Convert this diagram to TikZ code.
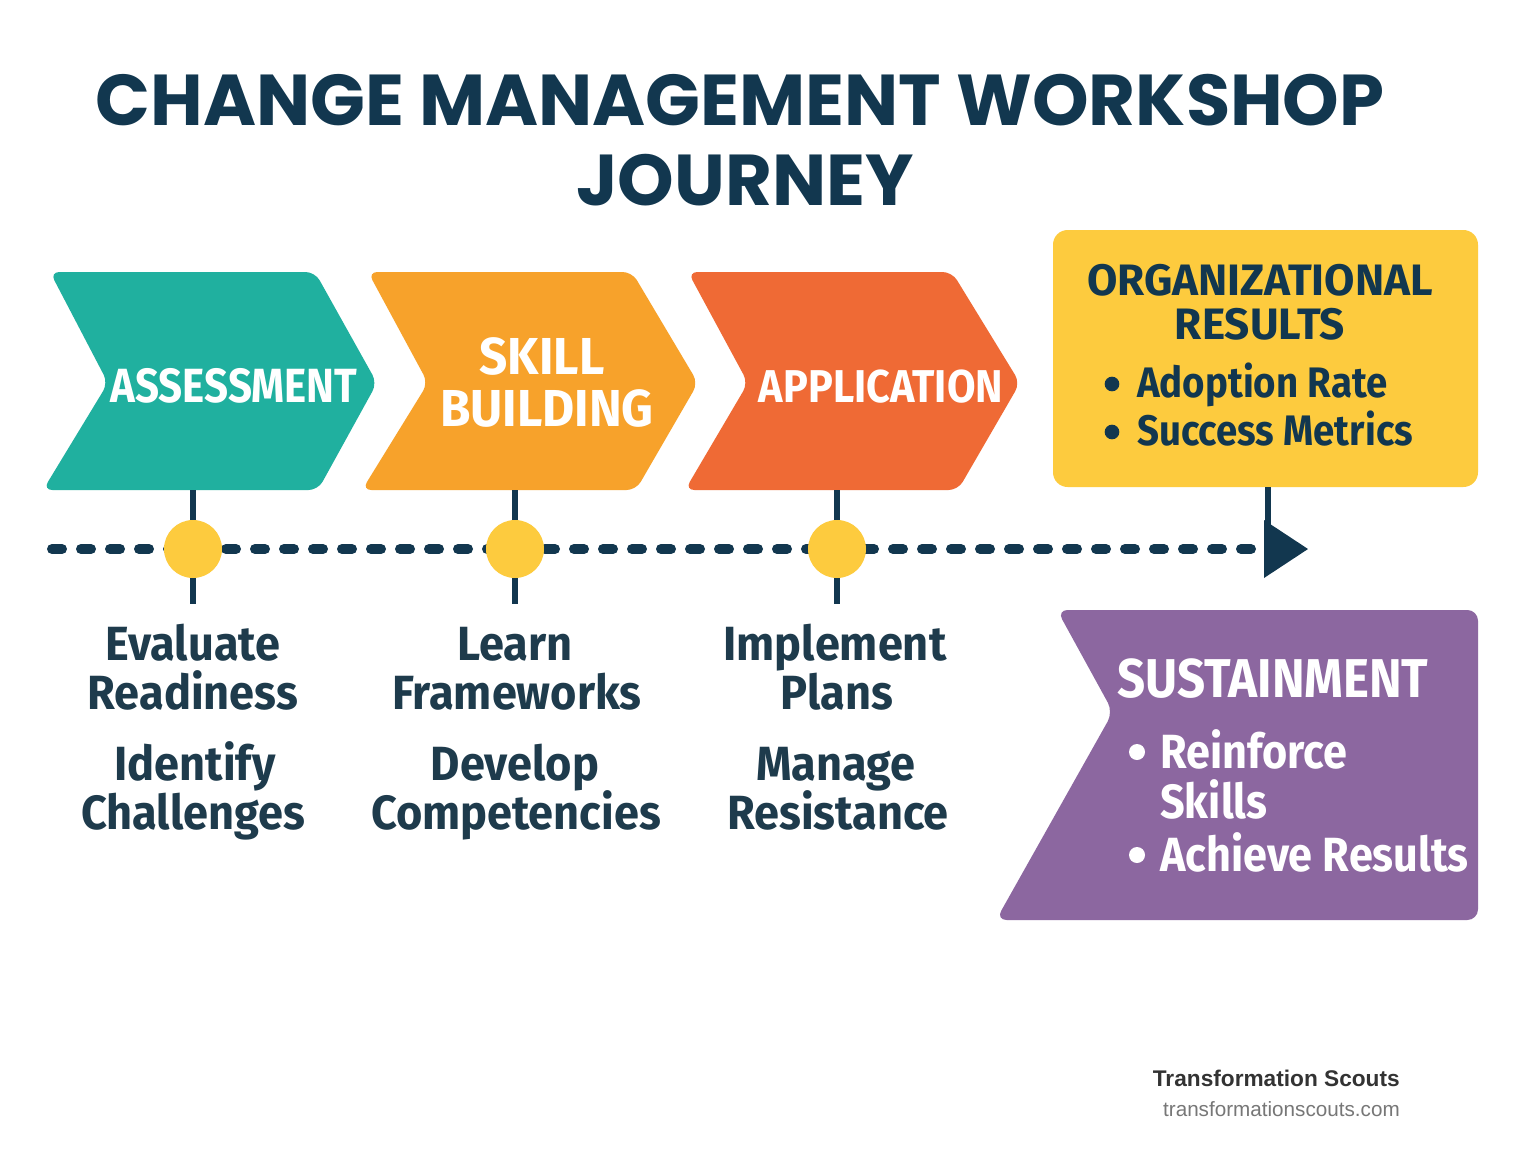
\documentclass[tikz,border=0pt]{standalone}
\usepackage{fontspec}
\setmainfont{Fira Sans}
\newfontfamily\titlefont{Poppins}
\newfontfamily\condfont{Fira Sans}[FakeStretch=0.875]
\newfontfamily\skillfont{Fira Sans}[FakeStretch=0.95]
\newfontfamily\appfont{Fira Sans}[FakeStretch=0.9]
\newfontfamily\semicond{Fira Sans}[FakeStretch=0.9]
\newfontfamily\subfont{Fira Sans}[FakeStretch=0.94]
\newfontfamily\footfont{Liberation Sans}
\definecolor{cteal}{HTML}{20B09F}
\definecolor{corange}{HTML}{F7A22B}
\definecolor{cred}{HTML}{EF6A35}
\definecolor{cyellow}{HTML}{FDCB3E}
\definecolor{cpurple}{HTML}{8C67A0}
\definecolor{cnavy}{HTML}{12374F}
\definecolor{ctext}{HTML}{1E3B4C}
\definecolor{cfoot}{HTML}{333333}
\definecolor{curl}{HTML}{777777}
\tikzset{
  titletext/.style={text=cnavy, font=\titlefont\bfseries\fontsize{54}{54}\selectfont, anchor=base, inner sep=0pt},
  chevlabel/.style={text=white, font=\condfont\bfseries\fontsize{36}{36}\selectfont, anchor=base, inner sep=0pt},
  subtext/.style={text=ctext, font=\subfont\bfseries\fontsize{36}{36}\selectfont, anchor=base, inner sep=0pt},
  stick/.style={draw=cnavy, line width=4.5pt},
  dotnode/.style={circle, fill=cyellow, minimum size=43.5pt, inner sep=0pt},
  timeline/.style={draw=cnavy, line width=7.5pt, dash pattern=on 7.5pt off 14.25pt, line cap=round},
  boxhead/.style={text=cnavy, font=\bfseries\fontsize{33}{33}\selectfont, anchor=base, inner sep=0pt},
  boxitem/.style={text=cnavy, font=\semicond\bfseries\fontsize{32}{32}\selectfont, anchor=base west, inner sep=0pt},
  purplehead/.style={text=white, font=\appfont\bfseries\fontsize{41}{41}\selectfont, anchor=base, inner sep=0pt},
  purpleitem/.style={text=white, font=\semicond\bfseries\fontsize{36}{36}\selectfont, anchor=base west, inner sep=0pt},
}
\begin{document}
\begin{tikzpicture}[x=0.75pt,y=-0.75pt]
\useasboundingbox (0,0) rectangle (1536,1154);
\fill[white] (0,0) rectangle (1536,1154);

% title
\node[titletext] (title1) at (740,125) {CHANGE MANAGEMENT WORKSHOP};
\node[titletext] (title2) at (745,205) {JOURNEY};

% chevrons
\fill[cteal, rounded corners=7pt] (50,272) -- (315,272) -- (377,383) -- (318,490) -- (43,490) -- (108,383) -- cycle;
\fill[corange, rounded corners=7pt] (368,272) -- (632,272) -- (698,383) -- (636,490) -- (362,490) -- (428,383) -- cycle;
\fill[cred, rounded corners=7pt] (688,272) -- (952,272) -- (1020,383) -- (958,490) -- (685,490) -- (748,383) -- cycle;

\node[chevlabel] (l1) at (234,402) {ASSESSMENT};
\node[chevlabel, font=\skillfont\bfseries\fontsize{39}{39}\selectfont] (l2a) at (542,374) {SKILL};
\node[chevlabel, font=\skillfont\bfseries\fontsize{39}{39}\selectfont] (l2b) at (547,426) {BUILDING};
\node[chevlabel, font=\appfont\bfseries\fontsize{34.5}{34.5}\selectfont] (l3) at (881,402) {APPLICATION};

% yellow box
\fill[cyellow, rounded corners=11pt] (1053,230) rectangle (1478,487);
\coordinate (ybot) at (1268,487);
\node[boxhead] (oh1) at (1260,295) {ORGANIZATIONAL};
\node[boxhead] (oh2) at (1260,339) {RESULTS};
\fill[cnavy] (1112,384) circle (5.5pt);
\fill[cnavy] (1112,432) circle (5.5pt);
\node[boxitem] (ob1) at (1137,397) {Adoption Rate};
\node[boxitem] (ob2) at (1137,445) {Success Metrics};

% purple shape
\fill[cpurple, rounded corners=8pt] (1057,610) -- (1478,610) -- (1478,920) -- (996,920) -- (1113,712) -- cycle;
\node[purplehead] (ph) at (1273,697) {SUSTAINMENT};
\fill[white] (1137,752) circle (6pt);
\fill[white] (1137,855) circle (6pt);
\node[purpleitem] (pb1) at (1160,768) {Reinforce};
\node[purpleitem] (pb1b) at (1160,818) {Skills};
\node[purpleitem] (pb2) at (1160,871) {Achieve Results};

% timeline
\coordinate (c1t) at (193,490);
\coordinate (c2t) at (515,490);
\coordinate (c3t) at (837,490);
\coordinate (c1b) at (193,604);
\coordinate (c2b) at (515,604);
\coordinate (c3b) at (837,604);
\draw[stick] (c1t) -- (c1b);
\draw[stick] (c2t) -- (c2b);
\draw[stick] (c3t) -- (c3b);
\coordinate (tl0) at (52,549);
\coordinate (tl1) at (1268,549);
\draw[timeline] (tl0) -- (tl1);
\draw[stick] (ybot) -- (tl1);
\fill[cnavy] (1264,520) -- (1308,549) -- (1264,578) -- cycle;
\node[dotnode] (d1) at (193,549) {};
\node[dotnode] (d2) at (515,549) {};
\node[dotnode] (d3) at (837,549) {};

% descriptions
\node[subtext] (s1a) at (193,660) {Evaluate};
\node[subtext] (s1b) at (193,709) {Readiness};
\node[subtext] (s1c) at (195,780) {Identify};
\node[subtext] (s1d) at (193,829) {Challenges};
\node[subtext] (s2a) at (515,660) {Learn};
\node[subtext] (s2b) at (517,709) {Frameworks};
\node[subtext] (s2c) at (515,780) {Develop};
\node[subtext] (s2d) at (516,829) {Competencies};
\node[subtext] (s3a) at (835,660) {Implement};
\node[subtext] (s3b) at (837,709) {Plans};
\node[subtext] (s3c) at (836,780) {Manage};
\node[subtext] (s3d) at (838,829) {Resistance};

% footer
\node[text=cfoot, font=\footfont\bfseries\fontsize{17}{17}\selectfont, anchor=base east, inner sep=0pt] (f1) at (1400,1086) {Transformation Scouts};
\node[text=curl, font=\footfont\fontsize{15.5}{15.5}\selectfont, anchor=base east, inner sep=0pt] (f2) at (1400,1116) {transformationscouts.com};
\end{tikzpicture}
\end{document}
